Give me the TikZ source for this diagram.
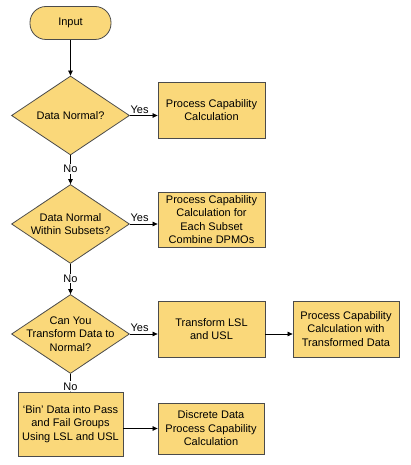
\documentclass[tikz,border=0pt]{standalone}
\usepackage{fontspec}
\setmainfont{Liberation Sans}
\usetikzlibrary{arrows.meta,shapes.geometric,positioning}
\definecolor{fcyellow}{RGB}{250,216,122}
\definecolor{fcedge}{RGB}{75,75,75}
\newcommand{\fcfont}{\fontsize{11}{13.5}\selectfont}

\begin{document}
\begin{tikzpicture}[x=1pt,y=-1pt,
  terminal/.style={draw=fcedge,fill=fcyellow,line width=0.8pt,rounded corners=16pt,
        minimum width=81pt,minimum height=33pt,font=\fcfont},
  decision/.style={draw=fcedge,fill=fcyellow,line width=0.8pt,diamond,
        minimum width=118pt,minimum height=79pt,inner sep=0pt},
  dtext/.style={font=\fcfont,align=center,inner sep=0pt},
  procbox/.style={draw=fcedge,fill=fcyellow,line width=0.8pt,
        minimum width=107pt,minimum height=56pt,align=center,inner sep=2pt,font=\fcfont},
  flow/.style={-{Triangle[length=5pt,width=4.5pt]},line width=0.7pt},
  branch/.style={font=\fcfont,inner sep=1pt,fill=white}]
  \useasboundingbox (0,0) rectangle (410,465);

  %% Start
  \node[terminal] (inp) at (70.5,23) {Input};

  %% Decisions down the left side
  \node[decision,label={[dtext]center:Data Normal?}] (d1) at (70.5,115.5) {};
  \node[decision,label={[dtext]center:Data Normal\\Within Subsets?}] (d2) at (70.5,224) {};
  \node[decision,label={[dtext]center:Can You\\Transform Data to\\Normal?}] (d3) at (70.5,334) {};

  %% Process boxes
  \node[procbox] (b1) at (211.5,110) {Process Capability\\Calculation};
  \node[procbox,minimum height=55pt] (b2) at (211.5,219.5) {Process Capability\\Calculation for\\Each Subset\\Combine DPMOs};
  \node[procbox] (b3) at (211.5,329) {Transform LSL\\and USL};
  \node[procbox,minimum width=106pt] (b4) at (346,329) {Process Capability\\Calculation with\\Transformed Data};
  \node[procbox,minimum width=105pt,minimum height=64pt] (b5) at (70.5,424) {`Bin' Data into Pass\\and Fail Groups\\Using LSL and USL};
  \node[procbox,minimum width=106pt,minimum height=51pt] (b6) at (211,428.5) {Discrete Data\\Process Capability\\Calculation};

  %% No branches
  \draw[flow] (inp) -- (d1);
  \draw[flow] (d1) -- (d2) node[branch,pos=0.47] {No};
  \draw[flow] (d2) -- (d3) node[branch,pos=0.48] {No};
  \draw[flow] (d3) -- (b5) node[branch,pos=0.7] {No};

  %% Yes branches
  \draw[flow] (d1.east) -- (d1.east -| b1.west) node[branch,pos=0.35,above=1pt] {Yes};
  \draw[flow] (d2.east) -- (d2.east -| b2.west) node[branch,pos=0.35,above=1pt] {Yes};
  \draw[flow] (d3.east) -- (d3.east -| b3.west) node[branch,pos=0.35,above=1pt] {Yes};
  \draw[flow] (d3.east -| b3.east) -- (d3.east -| b4.west);
  \draw[flow] (b5.east |- b6.west) -- (b6.west);
\end{tikzpicture}
\end{document}
